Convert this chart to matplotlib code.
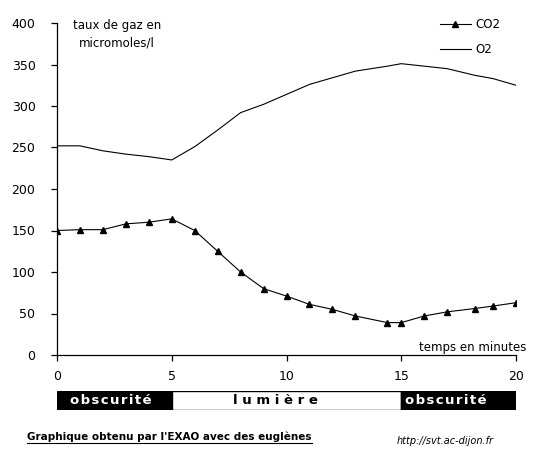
import matplotlib
matplotlib.use("Agg")
import matplotlib.pyplot as plt
from matplotlib.lines import Line2D

# data (minutes / micromoles per litre)
temps = [0, 1, 2, 3, 4, 5, 6, 7, 8, 9, 10, 11, 12, 13, 14.4, 15, 16, 17, 18.2, 19, 20]
co2 = [150, 151, 151, 158, 160, 164, 150, 125, 100, 80, 71, 61, 55, 47, 39, 39, 47, 52, 56, 59, 63]
o2 = [252, 252, 246, 242, 239, 235, 251, 271, 292, 302, 314, 326, 334, 342, 348, 351, 348, 345, 337, 333, 325]

periodes = ["obscurité", "lumière", "obscurité"]
debut = [0, 5, 15]
fin = [5, 15, 20]

y_ticks = [0, 50, 100, 150, 200, 250, 300, 350, 400]
x_ticks = [0, 5, 10, 15, 20]

W, H = 539, 467
fig = plt.figure(figsize=(W / 100, H / 100), dpi=100)
plt.rcParams['font.family'] = ['DejaVu Sans']


def fx(px):
    return px / W


def fy(py):
    return 1 - py / H


ax = fig.add_axes([fx(57), fy(355), fx(516) - fx(57), fy(23) - fy(355)])
ax.plot(temps, co2, color='black', lw=0.8, marker='^', ms=4.5, label='CO2')
ax.plot(temps, o2, color='black', lw=0.8, label='O2')
ax.set_xlim(0, 20)
ax.set_ylim(0, 400)
ax.set_xticks(x_ticks)
ax.set_yticks(y_ticks)
for s in ['top', 'right']:
    ax.spines[s].set_visible(False)
for s in ['left', 'bottom']:
    ax.spines[s].set_linewidth(0.9)
ax.tick_params(axis='y', direction='out', length=4.5, width=0.9, pad=11, labelsize=9)
ax.tick_params(axis='x', direction='out', length=4.5, width=0.9, pad=6, labelsize=9)

ax.legend(loc='upper left', bbox_to_anchor=(fx(440), fy(18)), bbox_transform=fig.transFigure,
          frameon=False, fontsize=8.5, handlelength=2.6, handletextpad=0.4, labelspacing=1.05,
          borderaxespad=0, borderpad=0)

fig.text(fx(117), fy(34), "taux de gaz en\nmicromoles/l", ha='center', va='center',
         fontsize=8.5, multialignment='center', linespacing=1.5)
fig.text(fx(526), fy(347), "temps en minutes", ha='right', va='center', fontsize=8.5)

# light / dark band under the axis
bx = fig.add_axes([fx(57), fy(410), fx(516) - fx(57), fy(391) - fy(410)])
bx.set_xlim(0, 20)
bx.set_ylim(0, 1)
bx.axis('off')
decalage = [-0.15, -0.5, -0.55]  # labels sit a bit left of the box centres
for nom, a, b, d in zip(periodes, debut, fin, decalage):
    sombre = nom != "lumière"
    bx.bar(a, 1, width=b - a, align='edge', color='black' if sombre else 'white',
           edgecolor='black', lw=1)
    if sombre:
        label = "\u200a".join(nom)
        coul = 'white'
    else:
        label = " ".join(nom)
        coul = 'black'
    bx.text((a + b) / 2 + d, 0.5, label, ha='center', va='center', color=coul,
            fontsize=9.5, fontweight='bold')

cap = fig.text(fx(27), fy(437), "Graphique obtenu par l'EXAO avec des euglènes",
               ha='left', va='center', fontsize=7.5, fontweight='bold')
fig.text(fx(397), fy(441), "http://svt.ac-dijon.fr", ha='left', va='center',
         fontsize=7, style='italic')

# underline the caption
fig.canvas.draw()
bb = cap.get_window_extent().transformed(fig.transFigure.inverted())
fig.add_artist(Line2D([bb.x0, bb.x1], [bb.y0 - 0.002, bb.y0 - 0.002],
                      transform=fig.transFigure, color='black', lw=0.8))

fig.savefig("out.png", dpi=100)
